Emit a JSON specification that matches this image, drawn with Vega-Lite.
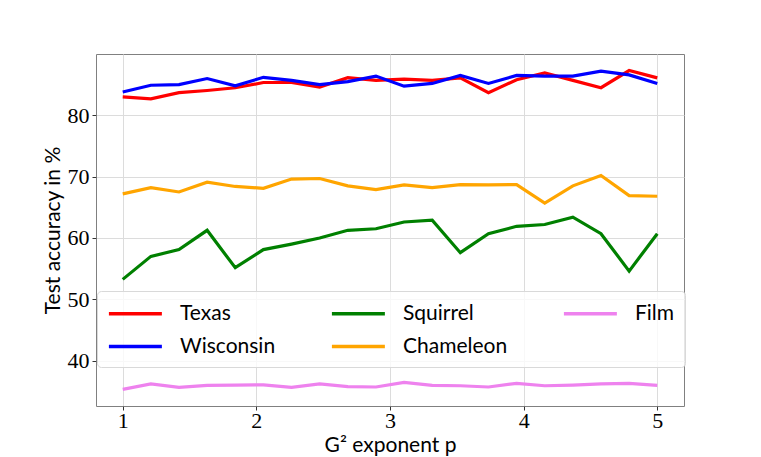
{
  "$schema": "https://vega.github.io/schema/vega-lite/v6.json",
  "width": 588,
  "height": 352,
  "autosize": {"type": "none"},
  "padding": {"left": 96, "top": 54, "right": 77, "bottom": 51},
  "background": "white",
  "data": {
    "values": [
      {"series": "Texas", "p": 1, "acc": 83.0},
      {"series": "Texas", "p": 1.2105, "acc": 82.7},
      {"series": "Texas", "p": 1.4211, "acc": 83.7},
      {"series": "Texas", "p": 1.6316, "acc": 84.05},
      {"series": "Texas", "p": 1.8421, "acc": 84.5},
      {"series": "Texas", "p": 2.0526, "acc": 85.35},
      {"series": "Texas", "p": 2.2632, "acc": 85.35},
      {"series": "Texas", "p": 2.4737, "acc": 84.6},
      {"series": "Texas", "p": 2.6842, "acc": 86.15},
      {"series": "Texas", "p": 2.8947, "acc": 85.7},
      {"series": "Texas", "p": 3.1053, "acc": 85.9},
      {"series": "Texas", "p": 3.3158, "acc": 85.7},
      {"series": "Texas", "p": 3.5263, "acc": 86.1},
      {"series": "Texas", "p": 3.7368, "acc": 83.7},
      {"series": "Texas", "p": 3.9474, "acc": 85.8},
      {"series": "Texas", "p": 4.1579, "acc": 86.9},
      {"series": "Texas", "p": 4.3684, "acc": 85.7},
      {"series": "Texas", "p": 4.5789, "acc": 84.5},
      {"series": "Texas", "p": 4.7895, "acc": 87.3},
      {"series": "Texas", "p": 5, "acc": 86.1},
      {"series": "Wisconsin", "p": 1, "acc": 83.8},
      {"series": "Wisconsin", "p": 1.2105, "acc": 84.9},
      {"series": "Wisconsin", "p": 1.4211, "acc": 85.0},
      {"series": "Wisconsin", "p": 1.6316, "acc": 86.0},
      {"series": "Wisconsin", "p": 1.8421, "acc": 84.8},
      {"series": "Wisconsin", "p": 2.0526, "acc": 86.2},
      {"series": "Wisconsin", "p": 2.2632, "acc": 85.7},
      {"series": "Wisconsin", "p": 2.4737, "acc": 85.0},
      {"series": "Wisconsin", "p": 2.6842, "acc": 85.5},
      {"series": "Wisconsin", "p": 2.8947, "acc": 86.4},
      {"series": "Wisconsin", "p": 3.1053, "acc": 84.75},
      {"series": "Wisconsin", "p": 3.3158, "acc": 85.2},
      {"series": "Wisconsin", "p": 3.5263, "acc": 86.5},
      {"series": "Wisconsin", "p": 3.7368, "acc": 85.2},
      {"series": "Wisconsin", "p": 3.9474, "acc": 86.5},
      {"series": "Wisconsin", "p": 4.1579, "acc": 86.4},
      {"series": "Wisconsin", "p": 4.3684, "acc": 86.4},
      {"series": "Wisconsin", "p": 4.5789, "acc": 87.2},
      {"series": "Wisconsin", "p": 4.7895, "acc": 86.6},
      {"series": "Wisconsin", "p": 5, "acc": 85.2},
      {"series": "Squirrel", "p": 1, "acc": 53.25},
      {"series": "Squirrel", "p": 1.2105, "acc": 57.0},
      {"series": "Squirrel", "p": 1.4211, "acc": 58.1},
      {"series": "Squirrel", "p": 1.6316, "acc": 61.25},
      {"series": "Squirrel", "p": 1.8421, "acc": 55.15},
      {"series": "Squirrel", "p": 2.0526, "acc": 58.1},
      {"series": "Squirrel", "p": 2.2632, "acc": 59.0},
      {"series": "Squirrel", "p": 2.4737, "acc": 60.0},
      {"series": "Squirrel", "p": 2.6842, "acc": 61.25},
      {"series": "Squirrel", "p": 2.8947, "acc": 61.5},
      {"series": "Squirrel", "p": 3.1053, "acc": 62.6},
      {"series": "Squirrel", "p": 3.3158, "acc": 62.9},
      {"series": "Squirrel", "p": 3.5263, "acc": 57.6},
      {"series": "Squirrel", "p": 3.7368, "acc": 60.7},
      {"series": "Squirrel", "p": 3.9474, "acc": 61.9},
      {"series": "Squirrel", "p": 4.1579, "acc": 62.2},
      {"series": "Squirrel", "p": 4.3684, "acc": 63.4},
      {"series": "Squirrel", "p": 4.5789, "acc": 60.7},
      {"series": "Squirrel", "p": 4.7895, "acc": 54.6},
      {"series": "Squirrel", "p": 5, "acc": 60.7},
      {"series": "Chameleon", "p": 1, "acc": 67.2},
      {"series": "Chameleon", "p": 1.2105, "acc": 68.2},
      {"series": "Chameleon", "p": 1.4211, "acc": 67.5},
      {"series": "Chameleon", "p": 1.6316, "acc": 69.1},
      {"series": "Chameleon", "p": 1.8421, "acc": 68.4},
      {"series": "Chameleon", "p": 2.0526, "acc": 68.1},
      {"series": "Chameleon", "p": 2.2632, "acc": 69.6},
      {"series": "Chameleon", "p": 2.4737, "acc": 69.7},
      {"series": "Chameleon", "p": 2.6842, "acc": 68.5},
      {"series": "Chameleon", "p": 2.8947, "acc": 67.9},
      {"series": "Chameleon", "p": 3.1053, "acc": 68.65},
      {"series": "Chameleon", "p": 3.3158, "acc": 68.2},
      {"series": "Chameleon", "p": 3.5263, "acc": 68.7},
      {"series": "Chameleon", "p": 3.7368, "acc": 68.65},
      {"series": "Chameleon", "p": 3.9474, "acc": 68.7},
      {"series": "Chameleon", "p": 4.1579, "acc": 65.7},
      {"series": "Chameleon", "p": 4.3684, "acc": 68.5},
      {"series": "Chameleon", "p": 4.5789, "acc": 70.2},
      {"series": "Chameleon", "p": 4.7895, "acc": 66.9},
      {"series": "Chameleon", "p": 5, "acc": 66.8},
      {"series": "Film", "p": 1, "acc": 35.32},
      {"series": "Film", "p": 1.2105, "acc": 36.2},
      {"series": "Film", "p": 1.4211, "acc": 35.65},
      {"series": "Film", "p": 1.6316, "acc": 35.97},
      {"series": "Film", "p": 1.8421, "acc": 36.0},
      {"series": "Film", "p": 2.0526, "acc": 36.05},
      {"series": "Film", "p": 2.2632, "acc": 35.65},
      {"series": "Film", "p": 2.4737, "acc": 36.2},
      {"series": "Film", "p": 2.6842, "acc": 35.75},
      {"series": "Film", "p": 2.8947, "acc": 35.7},
      {"series": "Film", "p": 3.1053, "acc": 36.45},
      {"series": "Film", "p": 3.3158, "acc": 35.97},
      {"series": "Film", "p": 3.5263, "acc": 35.9},
      {"series": "Film", "p": 3.7368, "acc": 35.7},
      {"series": "Film", "p": 3.9474, "acc": 36.3},
      {"series": "Film", "p": 4.1579, "acc": 35.9},
      {"series": "Film", "p": 4.3684, "acc": 36.0},
      {"series": "Film", "p": 4.5789, "acc": 36.2},
      {"series": "Film", "p": 4.7895, "acc": 36.3},
      {"series": "Film", "p": 5, "acc": 35.97}
    ]
  },
  "mark": {"type": "line", "strokeWidth": 3.2, "clip": true},
  "encoding": {
    "x": {
      "field": "p",
      "type": "quantitative",
      "scale": {"domain": [0.8, 5.2], "nice": false, "zero": false},
      "axis": {"values": [1, 2, 3, 4, 5], "title": "G² exponent p", "format": "d"}
    },
    "y": {
      "field": "acc",
      "type": "quantitative",
      "scale": {"domain": [32.6, 90.0], "nice": false, "zero": false},
      "axis": {"values": [40, 50, 60, 70, 80], "title": "Test accuracy in %"}
    },
    "color": {
      "field": "series",
      "type": "nominal",
      "scale": {
        "domain": ["Texas", "Squirrel", "Film", "Wisconsin", "Chameleon"],
        "range": ["#ff0000", "#008000", "#ee82ee", "#0000ff", "#ffa500"]
      },
      "legend": {
        "title": null,
        "orient": "none",
        "legendX": 1,
        "legendY": 237,
        "columns": 3,
        "direction": "horizontal",
        "symbolType": "M-1,0H4",
        "symbolSize": 449,
        "symbolStrokeWidth": 3.5,
        "labelFont": "Lato",
        "labelFontSize": 21,
        "labelColor": "black",
        "labelOffset": 48,
        "columnPadding": 48,
        "rowPadding": 10,
        "padding": 10,
        "fillColor": "rgba(255,255,255,0.8)",
        "strokeColor": "#d9d9d9",
        "cornerRadius": 4
      }
    }
  },
  "config": {
    "view": {"stroke": "#808080", "strokeWidth": 1},
    "axis": {
      "domain": false,
      "grid": true,
      "gridColor": "#dcdcdc",
      "gridWidth": 1,
      "tickColor": "#333333",
      "tickSize": 4,
      "labelFont": "Liberation Serif",
      "labelFontSize": 22,
      "labelColor": "black",
      "labelPadding": 3,
      "titleFont": "Lato",
      "titleFontSize": 21,
      "titleFontWeight": "normal",
      "titleColor": "black",
      "titlePadding": 4
    },
    "axisX": {"labelPadding": 0, "titleY": 45, "titleBaseline": "alphabetic"}
  }
}
